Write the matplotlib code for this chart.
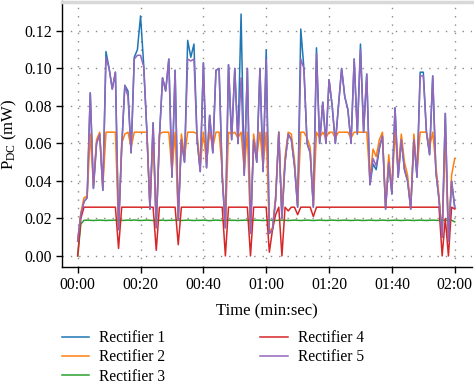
import matplotlib
matplotlib.use("Agg")
import matplotlib.pyplot as plt
import numpy as np

plt.rcParams['font.family'] = ['Liberation Serif', 'DejaVu Serif']
plt.rcParams['mathtext.fontset'] = 'custom'
plt.rcParams['mathtext.rm'] = 'Liberation Serif'

time_s = list(range(0, 121))

rect5 = [0.008, 0.022, 0.029, 0.031, 0.087, 0.036, 0.060, 0.065, 0.035, 0.106,
         0.100, 0.089, 0.098, 0.014, 0.058, 0.091, 0.085, 0.055, 0.105, 0.107,
         0.107, 0.101, 0.067, 0.025, 0.071, 0.015, 0.063, 0.095, 0.088, 0.105,
         0.042, 0.099, 0.019, 0.062, 0.050, 0.105, 0.104, 0.105, 0.062, 0.045,
         0.103, 0.047, 0.075, 0.055, 0.099, 0.100, 0.042, 0.015, 0.102, 0.062,
         0.100, 0.060, 0.095, 0.043, 0.100, 0.012, 0.062, 0.050, 0.100, 0.045,
         0.105, 0.012, 0.014, 0.030, 0.066, 0.020, 0.050, 0.065, 0.062, 0.048,
         0.026, 0.105, 0.100, 0.060, 0.055, 0.026, 0.108, 0.060, 0.082, 0.060,
         0.094, 0.080, 0.060, 0.080, 0.100, 0.085, 0.078, 0.060, 0.105, 0.065,
         0.110, 0.066, 0.097, 0.038, 0.052, 0.048, 0.058, 0.064, 0.025, 0.050,
         0.033, 0.079, 0.042, 0.062, 0.046, 0.040, 0.025, 0.062, 0.042, 0.096,
         0.096, 0.066, 0.054, 0.096, 0.045, 0.030, 0.010, 0.076, 0.008, 0.040,
         0.026]

rect1 = [0.008, 0.022, 0.029, 0.031, 0.087, 0.036, 0.060, 0.065, 0.035, 0.109,
         0.100, 0.089, 0.098, 0.014, 0.058, 0.091, 0.088, 0.055, 0.106, 0.110,
         0.128, 0.102, 0.067, 0.025, 0.071, 0.015, 0.063, 0.095, 0.088, 0.105,
         0.042, 0.099, 0.019, 0.062, 0.050, 0.115, 0.106, 0.113, 0.062, 0.045,
         0.103, 0.047, 0.075, 0.055, 0.099, 0.100, 0.042, 0.015, 0.102, 0.062,
         0.100, 0.060, 0.129, 0.043, 0.100, 0.012, 0.062, 0.050, 0.100, 0.045,
         0.110, 0.012, 0.014, 0.030, 0.066, 0.020, 0.050, 0.065, 0.062, 0.048,
         0.026, 0.121, 0.100, 0.060, 0.055, 0.026, 0.111, 0.060, 0.082, 0.060,
         0.094, 0.080, 0.060, 0.080, 0.100, 0.085, 0.078, 0.060, 0.105, 0.065,
         0.113, 0.066, 0.097, 0.038, 0.049, 0.046, 0.057, 0.064, 0.025, 0.050,
         0.033, 0.079, 0.042, 0.062, 0.046, 0.040, 0.025, 0.062, 0.042, 0.098,
         0.098, 0.066, 0.054, 0.096, 0.045, 0.030, 0.010, 0.076, 0.008, 0.040,
         0.026]

rect2 = [0.008, 0.023, 0.031, 0.032, 0.065, 0.038, 0.062, 0.066, 0.037, 0.066,
         0.066, 0.066, 0.066, 0.015, 0.060, 0.065, 0.066, 0.058, 0.066, 0.066,
         0.066, 0.066, 0.066, 0.026, 0.066, 0.016, 0.065, 0.066, 0.066, 0.066,
         0.045, 0.066, 0.020, 0.065, 0.053, 0.066, 0.066, 0.066, 0.065, 0.048,
         0.066, 0.050, 0.066, 0.058, 0.066, 0.066, 0.045, 0.016, 0.066, 0.065,
         0.066, 0.063, 0.066, 0.046, 0.066, 0.013, 0.065, 0.053, 0.066, 0.048,
         0.066, 0.013, 0.015, 0.032, 0.066, 0.021, 0.053, 0.066, 0.065, 0.051,
         0.027, 0.066, 0.066, 0.063, 0.058, 0.027, 0.066, 0.063, 0.066, 0.063,
         0.066, 0.066, 0.063, 0.066, 0.066, 0.066, 0.066, 0.063, 0.066, 0.066,
         0.066, 0.066, 0.066, 0.041, 0.057, 0.053, 0.062, 0.066, 0.026, 0.054,
         0.035, 0.066, 0.046, 0.065, 0.050, 0.043, 0.026, 0.065, 0.046, 0.066,
         0.066, 0.066, 0.058, 0.066, 0.048, 0.032, 0.011, 0.066, 0.009, 0.043,
         0.052]

rect3 = [0.000, 0.017, 0.019, 0.0191, 0.019, 0.0189, 0.019, 0.0191, 0.019, 0.0189,
         0.019, 0.019, 0.0191, 0.019, 0.0189, 0.019, 0.0191, 0.019, 0.0192, 0.019,
         0.0189, 0.019, 0.0191, 0.019, 0.0189, 0.019, 0.019, 0.0191, 0.0189, 0.019,
         0.019, 0.0191, 0.019, 0.0189, 0.019, 0.0191, 0.019, 0.0189, 0.019, 0.019,
         0.0191, 0.019, 0.0188, 0.019, 0.0191, 0.019, 0.0189, 0.019, 0.0191, 0.019,
         0.019, 0.0189, 0.019, 0.0191, 0.019, 0.0189, 0.019, 0.0191, 0.019, 0.0189,
         0.019, 0.0191, 0.019, 0.0189, 0.019, 0.0191, 0.019, 0.0189, 0.019, 0.0191,
         0.019, 0.0189, 0.019, 0.0191, 0.019, 0.0189, 0.019, 0.0191, 0.019, 0.0189,
         0.019, 0.0191, 0.019, 0.0189, 0.019, 0.0191, 0.019, 0.0189, 0.019, 0.0191,
         0.019, 0.0189, 0.019, 0.0191, 0.019, 0.0189, 0.019, 0.0191, 0.019, 0.0189,
         0.019, 0.0191, 0.019, 0.0189, 0.019, 0.0191, 0.019, 0.0189, 0.019, 0.0191,
         0.019, 0.0189, 0.019, 0.0191, 0.019, 0.0189, 0.019, 0.0191, 0.0189, 0.019,
         0.0182]

rect4 = [0.000, 0.020, 0.026, 0.026, 0.026, 0.026, 0.026, 0.026, 0.026, 0.026,
         0.026, 0.026, 0.026, 0.004, 0.026, 0.026, 0.026, 0.026, 0.026, 0.026,
         0.026, 0.026, 0.026, 0.026, 0.026, 0.003, 0.026, 0.026, 0.026, 0.026,
         0.026, 0.026, 0.006, 0.026, 0.026, 0.026, 0.026, 0.026, 0.026, 0.026,
         0.026, 0.026, 0.026, 0.026, 0.026, 0.026, 0.026, 0.000, 0.026, 0.026,
         0.026, 0.026, 0.026, 0.026, 0.026, 0.000, 0.026, 0.026, 0.026, 0.026,
         0.026, 0.002, 0.014, 0.022, 0.026, 0.000, 0.026, 0.024, 0.026, 0.026,
         0.022, 0.026, 0.026, 0.026, 0.026, 0.021, 0.026, 0.026, 0.026, 0.026,
         0.026, 0.026, 0.026, 0.026, 0.026, 0.026, 0.026, 0.026, 0.026, 0.026,
         0.026, 0.026, 0.026, 0.026, 0.026, 0.026, 0.026, 0.026, 0.026, 0.026,
         0.026, 0.026, 0.026, 0.026, 0.026, 0.026, 0.026, 0.026, 0.026, 0.026,
         0.026, 0.026, 0.026, 0.026, 0.026, 0.026, 0.000, 0.020, 0.000, 0.026,
         0.025]

series = [rect1, rect2, rect3, rect4, rect5]
labels = ["Rectifier 1", "Rectifier 2", "Rectifier 3", "Rectifier 4", "Rectifier 5"]
colors = ["#1f77b4", "#ff7f0e", "#2ca02c", "#d62728", "#9467bd"]

xticks = [0, 20, 40, 60, 80, 100, 120]
xticklabels = ["00:00", "00:20", "00:40", "01:00", "01:20", "01:40", "02:00"]
yticks = [0.00, 0.02, 0.04, 0.06, 0.08, 0.10, 0.12]

fig = plt.figure(figsize=(4.74, 3.88), dpi=100)
ax = fig.add_axes([62 / 474, 1 - 267 / 388, (472 - 62) / 474, 265.5 / 388])

for y, lab, c in zip(series, labels, colors):
    ax.plot(time_s, y, color=c, lw=1.1, label=lab)

ax.set_xlim(-5, 125.5)
ax.set_ylim(-0.0059, 0.1357)
ax.set_xticks(xticks)
ax.set_xticklabels(xticklabels)
ax.set_yticks(yticks)
ax.set_yticklabels([f"{v:.2f}" for v in yticks])
ax.tick_params(direction='out', length=4, width=1, labelsize=11.3, pad=3)

ax.grid(True, color='#8a8a8a', linestyle=(0, (1, 5)), lw=1)
ax.set_axisbelow(True)

ax.spines['right'].set_visible(False)
ax.spines['top'].set_color('#d8d8d8')
ax.spines['top'].set_linewidth(2.5)
ax.spines['left'].set_linewidth(1)
ax.spines['bottom'].set_linewidth(1)

ax.set_xlabel("Time (min:sec)", fontsize=12, labelpad=8)
ax.set_ylabel(r"$\mathregular{P_{DC}}$ (mW)", fontsize=12, labelpad=4)

fig.legend(loc='upper left', bbox_to_anchor=(62 / 474, 1 - 330 / 388), ncol=2,
           frameon=False, fontsize=11.2, handlelength=1.75, handletextpad=0.65,
           columnspacing=6.1, labelspacing=0.22, borderpad=0, borderaxespad=0)

fig.savefig("out.png", dpi=100)
